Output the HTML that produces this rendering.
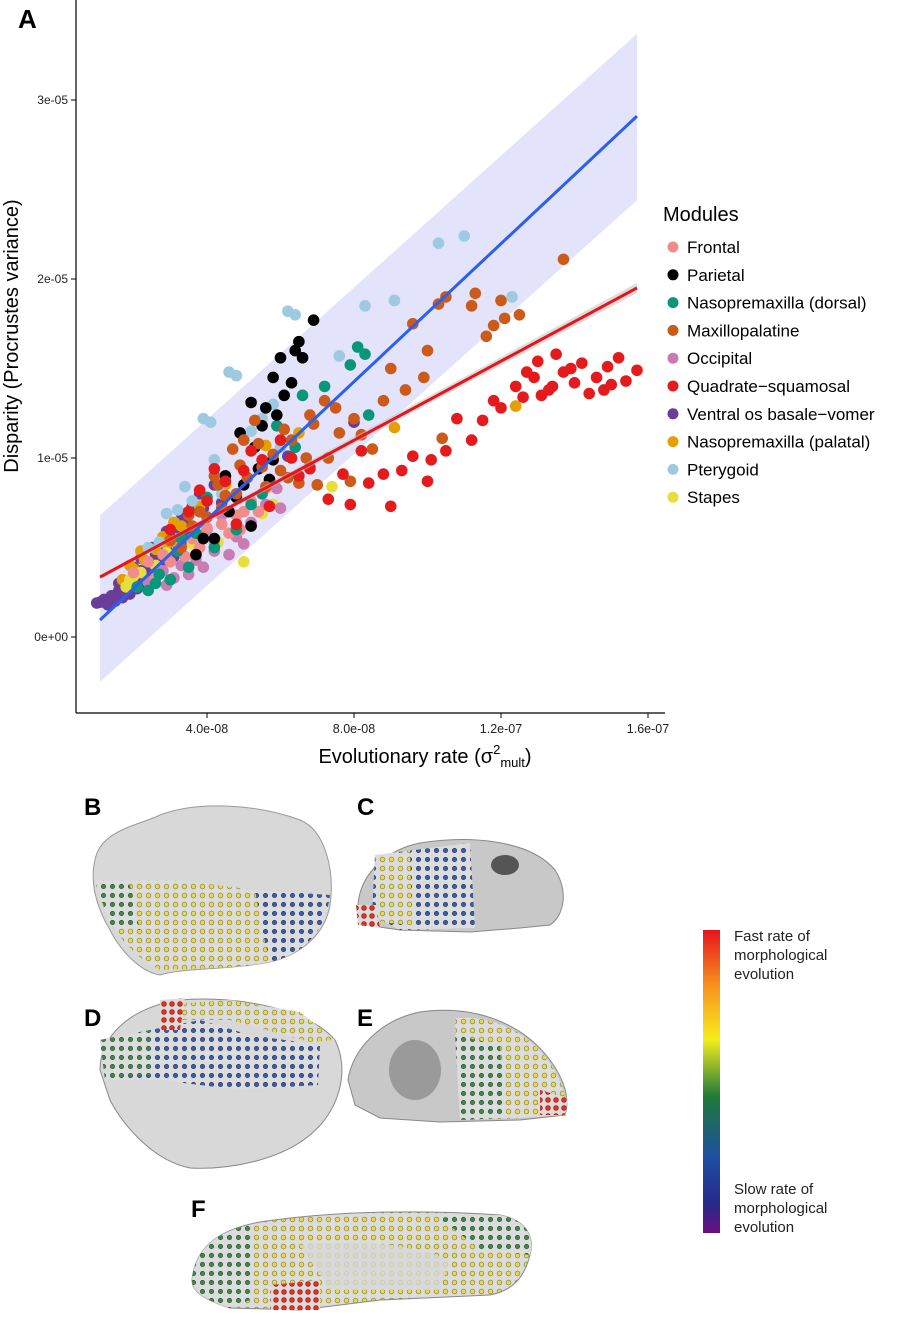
<!DOCTYPE html>
<html><head><meta charset="utf-8">
<style>
html,body{margin:0;padding:0;background:#fff;}
svg{display:block;font-family:"Liberation Sans",Arial,sans-serif;}
</style></head>
<body>
<svg id="fig" width="897" height="1317" viewBox="0 0 897 1317" xmlns="http://www.w3.org/2000/svg">
<defs>
  <linearGradient id="rateGrad" x1="0" y1="0" x2="0" y2="1">
    <stop offset="0" stop-color="#e8141c"/>
    <stop offset="0.18" stop-color="#f7901e"/>
    <stop offset="0.36" stop-color="#f5ee1c"/>
    <stop offset="0.55" stop-color="#1e7a3a"/>
    <stop offset="0.75" stop-color="#1d4fa0"/>
    <stop offset="0.9" stop-color="#262a8a"/>
    <stop offset="1" stop-color="#6a0f80"/>
  </linearGradient>
  <pattern id="dotsY" width="9" height="9" patternUnits="userSpaceOnUse"><rect width="9" height="9" fill="#dcdcdc"/><circle cx="4.5" cy="4.5" r="2.4" fill="#e8d84a" stroke="#7a7a30" stroke-width="0.6"/></pattern>
  <pattern id="dotsB" width="9" height="9" patternUnits="userSpaceOnUse"><rect width="9" height="9" fill="#dcdcdc"/><circle cx="4.5" cy="4.5" r="2.2" fill="#3a5fa8" stroke="#1e2f60" stroke-width="0.6"/></pattern>
  <pattern id="dotsG" width="9" height="9" patternUnits="userSpaceOnUse"><rect width="9" height="9" fill="#dcdcdc"/><circle cx="4.5" cy="4.5" r="2.2" fill="#3f8a4a" stroke="#1e4a25" stroke-width="0.6"/></pattern>
  <pattern id="dotsR" width="8" height="8" patternUnits="userSpaceOnUse"><rect width="8" height="8" fill="#dcdcdc"/><circle cx="4" cy="4" r="2.4" fill="#e8301c" stroke="#7a1010" stroke-width="0.6"/></pattern>
</defs>

<text x="18" y="28" font-size="26" font-weight="bold">A</text>
<g id="plot"></g>
<line x1="76" y1="0" x2="76" y2="713" stroke="#000" stroke-width="1.2"/>
<line x1="76" y1="713" x2="665" y2="713" stroke="#000" stroke-width="1.2"/>
<g id="yticks"></g>
<g id="xticks"></g>
<text transform="translate(18,336) rotate(-90)" text-anchor="middle" font-size="20">Disparity (Procrustes variance)</text>
<text x="425" y="763" text-anchor="middle" font-size="20">Evolutionary rate (σ<tspan font-size="13" dy="-9">2</tspan><tspan font-size="13" dy="13">mult</tspan><tspan dy="-4">)</tspan></text>

<g id="legend">
  <text x="663" y="221" font-size="20">Modules</text>
</g>

<text x="84" y="815" font-size="24" font-weight="bold">B</text>
<text x="357" y="815" font-size="24" font-weight="bold">C</text>
<text x="84" y="1026" font-size="24" font-weight="bold">D</text>
<text x="357" y="1026" font-size="24" font-weight="bold">E</text>
<text x="191" y="1217" font-size="24" font-weight="bold">F</text>

<g>
  <path d="M95,860 C100,830 140,825 160,815 C200,800 260,805 300,820 C325,830 335,870 330,905 C325,935 300,955 270,962 C230,970 180,968 160,975 C140,972 120,950 110,930 C95,905 90,880 95,860 Z" fill="#d8d8d8" stroke="#9a9a9a"/>
  <path d="M95,880 L180,880 L255,890 L330,895 C325,935 300,955 270,962 C230,970 180,968 160,970 C130,955 105,925 95,880 Z" fill="url(#dotsY)"/>
  <path d="M255,890 L330,895 C325,935 300,955 270,962 L262,930 Z" fill="url(#dotsB)"/>
  <path d="M95,880 L130,885 L140,930 L110,925 Z" fill="url(#dotsG)"/>
</g>
<g>
  <path d="M358,905 C360,875 385,850 420,843 C470,835 530,840 555,870 C568,890 565,915 550,925 L520,928 L470,932 L400,930 L365,925 Z" fill="#c8c8c8" stroke="#888"/>
  <path d="M375,855 L470,843 L475,928 L400,930 L372,915 Z" fill="url(#dotsB)"/>
  <path d="M375,858 L410,850 L412,925 L380,922 Z" fill="url(#dotsY)"/>
  <path d="M356,905 L376,905 L380,928 L358,925 Z" fill="url(#dotsR)"/>
  <ellipse cx="505" cy="865" rx="14" ry="10" fill="#555"/>
</g>
<g>
  <path d="M100,1070 C100,1030 140,1005 180,1000 C240,995 310,1010 335,1040 C350,1070 340,1110 310,1135 C280,1160 230,1170 190,1168 C150,1160 120,1120 110,1100 Z" fill="#d8d8d8" stroke="#888"/>
  <path d="M100,1040 L150,1030 L200,1020 L250,1035 L320,1045 L318,1085 L240,1090 L160,1080 L105,1080 Z" fill="url(#dotsB)"/>
  <path d="M100,1040 L150,1030 L150,1075 L105,1078 Z" fill="url(#dotsG)"/>
  <path d="M160,1005 L230,1000 L300,1012 L335,1040 L310,1042 L230,1020 L170,1020 Z" fill="url(#dotsY)"/>
  <path d="M160,1000 L185,998 L180,1030 L160,1030 Z" fill="url(#dotsR)"/>
</g>
<g>
  <path d="M348,1080 C352,1050 380,1020 420,1012 C470,1005 520,1020 550,1060 C565,1080 570,1100 565,1115 L520,1120 L440,1122 L380,1118 L355,1105 Z" fill="#c8c8c8" stroke="#888"/>
  <path d="M455,1018 C490,1015 525,1030 548,1060 C562,1080 568,1100 565,1115 L520,1118 L460,1120 Z" fill="url(#dotsY)"/>
  <path d="M455,1035 L500,1045 L505,1118 L460,1120 Z" fill="url(#dotsG)"/>
  <path d="M540,1090 L568,1098 L565,1115 L540,1115 Z" fill="url(#dotsR)"/>
  <ellipse cx="415" cy="1070" rx="26" ry="30" fill="#9a9a9a"/>
</g>
<g>
  <path d="M192,1280 C195,1250 215,1230 260,1222 C340,1210 430,1210 500,1215 C525,1220 535,1235 530,1255 C525,1275 515,1290 490,1295 L380,1300 L300,1310 L230,1308 C205,1300 192,1292 192,1280 Z" fill="url(#dotsY)" stroke="#888"/>
  <path d="M192,1280 C195,1250 215,1232 250,1225 L250,1300 L230,1308 C205,1300 192,1292 192,1280 Z" fill="url(#dotsG)"/>
  <path d="M270,1285 L320,1280 L320,1310 L270,1310 Z" fill="url(#dotsR)"/>
  <path d="M440,1218 L500,1215 C525,1220 535,1235 530,1255 L480,1250 Z" fill="url(#dotsG)"/>
  <path d="M300,1245 C340,1240 400,1240 450,1260 L440,1290 L330,1290 Z" fill="#d8d8d8" opacity="0.8"/>
</g>

<rect x="703" y="930" width="17" height="303" fill="url(#rateGrad)"/>
<text font-size="15" fill="#222"><tspan x="734" y="941">Fast rate of</tspan><tspan x="734" y="960">morphological</tspan><tspan x="734" y="979">evolution</tspan></text>
<text font-size="15" fill="#222"><tspan x="734" y="1194">Slow rate of</tspan><tspan x="734" y="1213">morphological</tspan><tspan x="734" y="1232">evolution</tspan></text>
</svg>

<script>
// ---- data (rate in 1e-8, disparity in 1e-6) ----
const moduleNames = ["Frontal","Parietal","Nasopremaxilla (dorsal)","Maxillopalatine","Occipital","Quadrate\u2212squamosal","Ventral os basale\u2212vomer","Nasopremaxilla (palatal)","Pterygoid","Stapes"];
const moduleColors = ["#f08c8c","#000000","#0a9678","#cc5a1a","#c97bb2","#e41a1c","#6a3d9a","#e69f00","#9ecae1","#e6de3c"];
const yTickValues = [0,10,20,30];
const yTickLabels = ["0e+00","1e-05","2e-05","3e-05"];
const xTickValues = [4,8,12,16];
const xTickLabels = ["4.0e-08","8.0e-08","1.2e-07","1.6e-07"];
const blueFitRate = [1.09,15.7];
const blueFitDisp = [0.95,29.1];
const redFitRate = [1.09,15.7];
const redFitDisp = [3.35,19.5];
const bandRate = [1.09,15.7];
const bandUpper = [6.8,33.7];
const bandLower = [-2.5,24.4];

const ventralRate = [1.0,1.2,1.4,1.6,1.8,2.0,2.2,2.4,2.6,2.8,3.0,3.2,3.4,3.6,1.5,1.9,2.3,2.7,3.1,3.8,4.2,6.2,8.0,1.3,1.7,2.1,1.1,1.25,1.45,1.65,1.85,2.05,2.25,2.45,2.65,2.85,3.05,3.3,3.5,2.2,2.5,2.9,3.3,3.9,4.4,1.6,2.0];
const ventralDisp = [1.9,2.1,2.3,2.6,2.9,3.3,3.7,4.1,4.6,5.0,5.6,6.1,6.6,7.3,2.0,2.4,3.0,3.8,4.5,8.0,8.5,10.1,12.0,1.8,2.2,2.7,1.95,2.0,2.15,2.4,2.6,2.9,3.2,3.6,4.0,4.3,4.8,5.2,5.7,4.4,5.0,5.9,6.9,7.2,7.5,3.0,3.9];
const palatalRate = [1.7,2.0,2.3,2.6,2.9,3.3,3.8,6.5,9.1,12.4,4.5,5.6,2.2,2.8,3.1,1.9];
const palatalDisp = [3.2,3.8,4.3,4.9,5.2,6.2,7.3,11.4,11.7,12.9,8.5,10.7,4.8,5.6,6.4,4.0];
const stapesRate = [2.2,2.6,3.1,1.9,3.6,4.3,5.0,5.5,5.8,7.4,2.9,1.8,2.4,2.0];
const stapesDisp = [3.6,4.0,3.3,3.2,5.2,5.3,4.2,6.9,7.4,8.4,4.7,2.8,3.1,3.4];
const occipitalRate = [2.4,2.8,3.3,3.7,4.2,4.8,5.2,5.6,4.4,3.5,2.9,5.9,6.0,3.9,4.6,5.0,3.1,4.0];
const occipitalDisp = [3.1,3.7,4.0,4.3,4.8,5.6,6.4,7.4,6.8,3.5,2.9,8.3,7.2,3.9,4.6,5.2,3.3,6.0];
const frontalRate = [2.0,2.4,2.8,3.2,3.6,4.0,4.4,4.8,5.2,5.6,3.0,3.8,4.6,2.6,5.0,3.4,4.2,4.9,5.4];
const frontalDisp = [3.6,4.2,4.6,5.0,5.5,6.1,6.3,6.8,7.6,8.3,4.2,5.0,5.8,3.3,7.0,4.5,5.3,6.0,7.0];
const pterygoidRate = [6.2,6.4,4.6,4.8,3.9,4.1,10.3,11.0,8.3,9.1,12.3,7.6,3.4,2.9,3.2,2.4,5.8,5.5,4.2,2.7,3.6,4.4,6.0,5.2];
const pterygoidDisp = [18.2,18.0,14.8,14.6,12.2,12.0,22.0,22.4,18.5,18.8,19.0,15.7,8.4,6.9,7.1,5.0,13.0,12.2,9.9,5.3,7.6,8.0,10.6,11.5];
const dorsalRate = [8.1,8.3,7.9,7.2,6.6,5.9,6.4,4.5,4.0,3.7,3.2,2.7,2.1,3.0,2.4,5.2,6.8,8.4,3.5,4.2,4.8,5.5,2.6,3.3];
const dorsalDisp = [16.2,15.8,15.2,14.0,13.5,11.8,10.6,9.0,7.8,5.8,4.8,3.5,2.8,3.2,2.6,7.4,9.5,12.4,3.9,5.0,6.0,8.0,3.0,5.5];
const parietalRate = [6.9,6.5,6.4,6.6,6.0,5.8,6.3,5.2,5.6,4.9,5.3,5.8,5.0,4.6,4.2,3.7,5.2,4.5,5.7,3.9,5.5,5.9,6.1,4.8,5.4];
const parietalDisp = [17.7,16.5,16.0,15.6,15.6,14.5,14.2,13.1,12.8,11.4,10.6,9.9,8.5,7.0,5.5,4.6,6.2,9.0,8.8,5.5,11.8,12.4,13.5,7.8,9.4];
const maxilloRate = [13.7,11.2,10.5,10.3,12.1,11.8,12.5,11.6,9.0,9.4,8.8,9.9,8.0,7.6,7.2,6.8,6.3,5.8,6.0,5.5,5.1,4.8,4.4,4.0,3.6,6.5,7.0,7.9,5.3,5.0,8.5,10.4,7.3,6.2,9.6,10.0,11.3,12.0,4.7,4.3,3.3,3.0,3.8,4.5,5.4,6.1,6.7,7.5,5.6,4.9,4.2,3.5,6.9,8.2];
const maxilloDisp = [21.1,18.5,19.0,18.6,17.8,17.4,18.0,16.8,15.0,13.8,13.2,14.5,12.2,11.4,13.2,12.4,11.0,10.2,9.3,9.5,8.9,8.0,7.2,6.7,6.2,8.6,8.5,8.7,12.1,11.0,10.5,11.1,10.0,8.9,17.5,16.0,19.2,18.8,10.5,8.5,5.0,5.4,7.0,7.9,10.8,11.6,10.0,12.8,8.4,9.6,9.0,6.8,11.9,11.3];
const quadRate = [15.7,15.2,14.9,14.6,14.2,14.0,13.7,13.4,13.1,12.9,12.6,12.4,13.0,13.5,14.8,15.4,12.0,11.8,11.2,10.8,10.1,10.5,9.6,9.3,8.8,8.4,7.9,7.3,7.7,6.8,6.3,6.0,5.5,5.0,4.5,4.0,3.5,3.0,5.7,4.8,9.0,10.0,11.5,8.2,13.3,13.9,14.4,15.0,12.7,5.2,4.2,3.8,6.5];
const quadDisp = [14.9,15.6,15.1,14.5,15.3,14.2,14.8,14.0,13.5,14.5,13.4,14.0,15.4,15.8,13.8,14.3,12.8,13.2,11.0,12.2,9.9,10.4,10.1,9.3,9.1,8.6,7.4,7.7,9.1,9.4,10.0,11.0,9.9,9.3,8.7,7.6,7.0,6.0,7.3,6.3,7.3,8.7,12.1,10.4,13.8,15.0,13.6,14.1,14.8,10.4,9.4,8.2,9.0];

function xS(r){ return 60 + r*147/4; }
function yS(d){ return 637 - d*17.9; }
const NS = "http://www.w3.org/2000/svg";
function mk(tag, attrs, parent){ const e=document.createElementNS(NS,tag); for(const k in attrs) e.setAttribute(k,attrs[k]); parent.appendChild(e); return e; }

const plot = document.getElementById('plot');
const band = mk('polygon',{points:[xS(bandRate[0])+','+yS(bandUpper[0]),xS(bandRate[1])+','+yS(bandUpper[1]),xS(bandRate[1])+','+yS(bandLower[1]),xS(bandRate[0])+','+yS(bandLower[0])].join(' '),fill:'#e3e3fb'},plot);



const series = [
  [ventralRate,ventralDisp,6],[palatalRate,palatalDisp,7],[stapesRate,stapesDisp,9],
  [occipitalRate,occipitalDisp,4],[frontalRate,frontalDisp,0],[pterygoidRate,pterygoidDisp,8],
  [dorsalRate,dorsalDisp,2],[parietalRate,parietalDisp,1],[maxilloRate,maxilloDisp,3],[quadRate,quadDisp,5]
];
series.forEach(s=>{
  const g = mk('g',{},plot);
  
  
  for(let i=0;i<s[0].length;i++){
    const c = mk('circle',{cx:xS(s[0][i]),cy:yS(s[1][i]),r:5.8,fill:moduleColors[s[2]]},g);
    
    
  }
});
const redCI = mk('polygon',{points:[xS(redFitRate[0])+','+(yS(redFitDisp[0])-2),xS(redFitRate[1])+','+(yS(redFitDisp[1])-5),xS(redFitRate[1])+','+(yS(redFitDisp[1])+5),xS(redFitRate[0])+','+(yS(redFitDisp[0])+2)].join(' '),fill:'#bbb',opacity:0.5},plot);


const blue = mk('line',{x1:xS(blueFitRate[0]),y1:yS(blueFitDisp[0]),x2:xS(blueFitRate[1]),y2:yS(blueFitDisp[1]),stroke:'#2b5fee','stroke-width':3},plot);


const red = mk('line',{x1:xS(redFitRate[0]),y1:yS(redFitDisp[0]),x2:xS(redFitRate[1]),y2:yS(redFitDisp[1]),stroke:'#e8141c','stroke-width':3},plot);



const yt = document.getElementById('yticks');
yTickValues.forEach((v,i)=>{
  const l = mk('line',{x1:71,x2:76,y1:yS(v),y2:yS(v),stroke:'#000'},yt);
  
  
  const t = mk('text',{x:68,y:yS(v)+4,'text-anchor':'end','font-size':12,fill:'#222'},yt);
  
  
  t.textContent = yTickLabels[i];
});
const xt = document.getElementById('xticks');
xTickValues.forEach((v,i)=>{
  const l = mk('line',{x1:xS(v),x2:xS(v),y1:713,y2:718,stroke:'#000'},xt);
  
  
  const t = mk('text',{x:xS(v),y:733,'text-anchor':'middle','font-size':12.5,fill:'#222'},xt);
  
  
  t.textContent = xTickLabels[i];
});

const lg = document.getElementById('legend');
moduleNames.forEach((n,i)=>{
  const y = 247 + i*27.8;
  const c = mk('circle',{cx:673,cy:y,r:5.5,fill:moduleColors[i]},lg);
  
  
  const t = mk('text',{x:687,y:y+6,'font-size':17},lg);
  
  
  t.textContent = n;
});
</script>
</body></html>
